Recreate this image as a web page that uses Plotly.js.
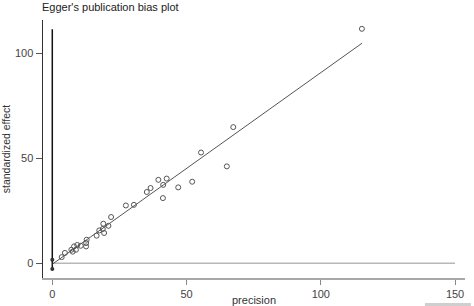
<!DOCTYPE html>
<html>
<head>
<meta charset="utf-8">
<script src="https://cdn.plot.ly/plotly-3.0.1.min.js"></script>
<style>html,body{margin:0;padding:0;background:#fff;}#chart{width:474px;height:306px;}</style>
</head>
<body>
<div id="chart"></div>
<script>
// Study points: precision (x) and standardized effect (y)
const precision = [115.3, 67.4, 55.4, 65.0, 52.1, 46.9, 42.6, 39.5, 41.3, 41.2, 36.6, 35.2, 30.4, 27.4, 21.9, 19.0, 20.9, 18.8, 17.5, 19.3, 16.5, 12.8, 12.6, 12.6, 10.6, 9.3, 8.1, 8.8, 7.1, 7.6, 4.7, 3.5];
const stdEffect = [111.6, 64.8, 52.7, 46.1, 38.8, 36.1, 40.3, 39.7, 37.3, 31.0, 35.8, 33.9, 27.8, 27.5, 22.0, 18.8, 17.8, 16.3, 15.6, 14.4, 13.1, 11.2, 9.6, 8.0, 8.3, 8.7, 8.0, 6.4, 6.4, 5.5, 4.9, 2.9];
// Fitted regression line
const fitX = [0, 115.4];
const fitY = [-0.5, 104.8];
// Intercept line at precision 0
const interceptX = [0, 0];
const interceptY = [-2.8, 111.4];
const interceptCI = [1.6, -2.8];
// Reference line at zero effect
const zeroX = [0, 150];
const zeroY = [0, 0];
const xTicks = [0, 50, 100, 150];
const yTicks = [0, 50, 100];

const font = "Liberation Sans, Arial, sans-serif";

const traces = [
  {x: zeroX, y: zeroY, mode: 'lines', line: {color: '#b8b8b8', width: 1.5}, hoverinfo: 'skip'},
  {x: interceptX, y: interceptY, mode: 'lines', line: {color: '#111', width: 1.5}, hoverinfo: 'skip'},
  {x: [0, 0], y: interceptCI, mode: 'markers', marker: {color: '#333', size: 4, symbol: 'circle'}, hoverinfo: 'skip'},
  {x: fitX, y: fitY, mode: 'lines', line: {color: '#555', width: 1}, hoverinfo: 'skip'},
  {x: precision, y: stdEffect, mode: 'markers',
   marker: {symbol: 'circle-open', size: 5, color: '#555', line: {width: 1, color: '#555'}}}
];

const layout = {
  width: 474, height: 306,
  margin: {l: 43, r: 9, t: 20, b: 28, pad: 0},
  paper_bgcolor: '#fff', plot_bgcolor: '#fff',
  showlegend: false,
  font: {family: font, size: 11, color: '#333'},
  title: {text: "Egger's publication bias plot", x: 42/474, xanchor: 'left', xref: 'container',
          y: 1 - 7/306, yanchor: 'middle', yref: 'container', font: {family: font, size: 11, color: '#222'}},
  xaxis: {
    range: [-3.46, 153.7], tickvals: xTicks, ticktext: xTicks.map(String),
    showgrid: false, zeroline: false, showline: true, linecolor: '#a8a8a8', linewidth: 1.5,
    ticks: 'outside', ticklen: 5, tickcolor: '#888', tickwidth: 1,
    tickfont: {family: font, size: 11, color: '#444'},
    title: {text: 'precision', standoff: 2, font: {family: font, size: 11, color: '#333'}},
    automargin: false
  },
  yaxis: {
    range: [-7.04, 115.8], tickvals: yTicks, ticktext: yTicks.map(String),
    showgrid: false, zeroline: false, showline: true, linecolor: '#333', linewidth: 1.5,
    ticks: 'outside', ticklen: 6, tickcolor: '#555', tickwidth: 1,
    tickfont: {family: font, size: 11, color: '#444'},
    title: {text: 'standardized effect', standoff: 6, font: {family: font, size: 10.5, color: '#333'}},
    automargin: false
  },
  shapes: [
    {type: 'rect', xref: 'paper', yref: 'paper', x0: 0.905, x1: 1.014, y0: -0.1085, y1: -0.097,
     fillcolor: '#cfcfcf', line: {width: 0}}
  ]
};

Plotly.newPlot('chart', traces, layout, {displayModeBar: false, staticPlot: true});
</script>
</body>
</html>
